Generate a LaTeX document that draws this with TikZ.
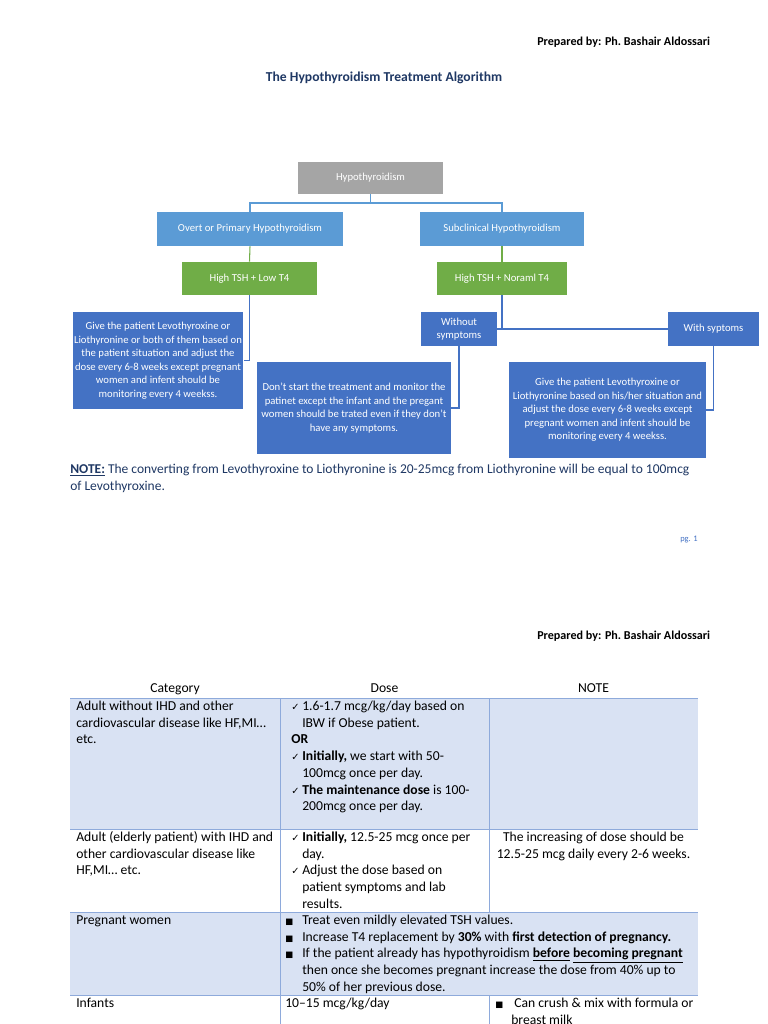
\documentclass[tikz,border=0pt]{standalone}
\usepackage{fontspec}
\setmainfont{Carlito}
\newfontfamily\symfont{DejaVu Sans}
\usepackage{tikz}
\usetikzlibrary{positioning}
\definecolor{BoxGray}{RGB}{165,165,165}
\definecolor{BoxSky}{RGB}{91,155,213}
\definecolor{BoxGreen}{RGB}{112,173,71}
\definecolor{BoxBlue}{RGB}{68,114,196}
\definecolor{Navy}{RGB}{31,56,100}
\definecolor{RowFill}{RGB}{217,226,243}
\definecolor{RuleBlue}{RGB}{142,170,219}
\newcommand{\chkitem}{\makebox[0.275cm][l]{\fontsize{7}{7}\symfont\char"2713}}
\newcommand{\chkpad}{\hspace*{0.275cm}}
\newcommand{\sqitem}[1][0.425cm]{\makebox[#1][l]{\fontsize{6}{6}\symfont\char"25A0}}

\begin{document}
\begin{tikzpicture}[x=0.025cm, y=-0.025cm,
  flowbox/.style={rectangle, fill=#1, text=white, inner sep=1pt,
                  align=center, font=\fontsize{7.6}{9.6}\selectfont},
  conn/.style={draw=#1, line width=0.75pt},
  cell/.style={anchor=north west, inner sep=0pt, align=left,
               font=\fontsize{9.7}{11.9}\selectfont},
  head/.style={anchor=base, inner sep=0pt, font=\fontsize{9.7}{11.9}\selectfont},
  rule/.style={draw=RuleBlue, line width=0.7pt}
]
\fill[white] (0,0) rectangle (768,1024);
\useasboundingbox (0,0) rectangle (768,1024);

%% Page 1 -- header and title
\node[anchor=west, inner sep=0pt, font=\fontsize{8.6}{10}\selectfont\bfseries]
  (prep1) at (537,42) {Prepared by: Ph.\ Bashair Aldossari};
\node[inner sep=0pt, text=Navy, font=\fontsize{9.7}{11}\selectfont\bfseries]
  (title) at (384,78) {The Hypothyroidism Treatment Algorithm};

%% Flow chart
\node[flowbox=BoxGray, minimum width=3.625cm, minimum height=0.8cm]
  (hypo) at (370.5,178) {Hypothyroidism};
\node[flowbox=BoxSky, minimum width=4.65cm, minimum height=0.85cm]
  (overt) at (250,229) {Overt or Primary Hypothyroidism};
\node[flowbox=BoxSky, minimum width=4.1cm, minimum height=0.85cm]
  (subc) at (502,229) {Subclinical Hypothyroidism};
\node[flowbox=BoxGreen, minimum width=3.375cm, minimum height=0.825cm]
  (lowT4) at (249.5,278.5) {High TSH + Low T4};
\node[flowbox=BoxGreen, minimum width=3.25cm, minimum height=0.825cm]
  (normT4) at (502,278.5) {High TSH + Noraml T4};

\node[flowbox=BoxBlue, minimum width=4.25cm, minimum height=2.425cm]
  (give1) at (158,360.5) {Give the patient Levothyroxine or\\
  Liothyronine or both of them based on\\the patient situation and adjust the\\
  dose every 6-8 weeks except pregnant\\women and infent should be\\
  monitoring every 4 weekss.};
\node[flowbox=BoxBlue, minimum width=1.9cm, minimum height=0.85cm]
  (without) at (459,329) {Without\\symptoms};
\node[flowbox=BoxBlue, minimum width=2.275cm, minimum height=0.85cm]
  (with) at (713.5,329) {With syptoms};
\node[flowbox=BoxBlue, minimum width=4.85cm, minimum height=2.3cm]
  (dont) at (354,408) {Don't start the treatment and monitor the\\
  patinet except the infant and the pregant\\
  women should be trated even if they don't\\have any symptoms.};
\node[flowbox=BoxBlue, minimum width=4.925cm, minimum height=2.4cm]
  (give2) at (607.5,410) {Give the patient Levothyroxine or\\
  Liothyronine based on his/her situation and\\
  adjust the dose every 6-8 weeks except\\
  pregnant women and infent should be\\monitoring every 4 weekss.};

\coordinate (split1) at (370.5,203);
\coordinate (split2) at (normT4.south |- without.east);
\draw[conn=BoxSky] (hypo.south) -- (split1);
\draw[conn=BoxSky] (split1) -| (overt.north);
\draw[conn=BoxSky] (split1) -| (subc.north);
\draw[conn=BoxGreen] (overt.south) -- (lowT4.north);
\draw[conn=BoxGreen] (subc.south) -- (normT4.north);
\draw[conn=BoxBlue] (lowT4.south) |- (give1.east);
\draw[conn=BoxBlue] (normT4.south) -- (split2);
\draw[conn=BoxBlue] (without.east) -- (with.west);
\draw[conn=BoxBlue] (without.south) |- (dont.east);
\draw[conn=BoxBlue] (with.south) |- (give2.east);

%% Note and page number
\node[anchor=north west, inner sep=0pt, align=left, text=Navy,
      font=\fontsize{9.6}{12.1}\selectfont] (note) at (70,461)
  {\strut\underline{\textbf{NOTE:}} The converting from Levothyroxine to
   Liothyronine is 20-25mcg from Liothyronine will be equal to 100mcg\\
   of Levothyroxine.};
\node[anchor=west, inner sep=0pt, text=BoxBlue, font=\fontsize{6}{7}\selectfont]
  (pg) at (680,540) {pg. 1};

%% Page 2 -- dose table
\node[anchor=west, inner sep=0pt, font=\fontsize{8.6}{10}\selectfont\bfseries]
  (prep2) at (537,636) {Prepared by: Ph.\ Bashair Aldossari};

\fill[RowFill] (70,698) rectangle (698,829);
\fill[RowFill] (70,912) rectangle (698,995);
\foreach \y in {698,829,912,995}
  \draw[rule] (70,\y) -- (698,\y);
\draw[rule] (280,698) -- (280,1024);
\draw[rule] (489,698) -- (489,912);
\draw[rule] (489,995) -- (489,1024);

\node[head] (hcat) at (175,692) {Category};
\node[head] (hdose) at (384.5,692) {Dose};
\node[head] (hnote) at (593.5,692) {NOTE};

% adult, no IHD
\node[cell] (cat1) at (76,698.5) {\strut Adult without IHD and other\\
  cardiovascular disease like HF,MI…\\etc.};
\node[cell] (dose1) at (291,698.5) {\strut\chkitem 1.6-1.7 mcg/kg/day based on\\
  \chkpad IBW if Obese patient.\\
  \textbf{OR}\\
  \chkitem\textbf{Initially,} we start with 50-\\
  \chkpad 100mcg once per day.\\
  \chkitem\textbf{The maintenance dose} is 100-\\
  \chkpad 200mcg once per day.};

% elderly with IHD
\node[cell] (cat2) at (76,829.5) {\strut Adult (elderly patient) with IHD and\\
  other cardiovascular disease like\\HF,MI… etc.};
\node[cell] (dose2) at (291,829.5) {\strut\chkitem\textbf{Initially,} 12.5-25 mcg once per\\
  \chkpad day.\\
  \chkitem Adjust the dose based on\\
  \chkpad patient symptoms and lab\\
  \chkpad results.};
\node[cell, anchor=north, align=center] (note2) at (593.5,829.5)
  {\strut The increasing of dose should be\\12.5-25 mcg daily every 2-6 weeks.};

% pregnancy
\node[cell] (cat3) at (76,912.5) {\strut Pregnant women};
\node[cell] (dose3) at (285,912.5) {\strut\sqitem Treat even mildly elevated TSH values.\\
  \sqitem Increase T4 replacement by \textbf{30\%} with \textbf{first detection of pregnancy.}\\
  \sqitem If the patient already has hypothyroidism \underline{\textbf{before}}
  \underline{\textbf{becoming pregnant}}\\
  \hspace*{0.425cm}then once she becomes pregnant increase the dose from 40\% up to\\
  \hspace*{0.425cm}50\% of her previous dose.};

% infants
\node[cell] (cat4) at (76,995.5) {\strut Infants};
\node[cell] (dose4) at (285,995.5) {\strut 10–15 mcg/kg/day};
\node[cell] (note4) at (495,995.5) {\strut\sqitem[0.4cm] Can crush \& mix with formula or\\
  \hspace*{0.4cm}breast milk};

\end{tikzpicture}
\end{document}
